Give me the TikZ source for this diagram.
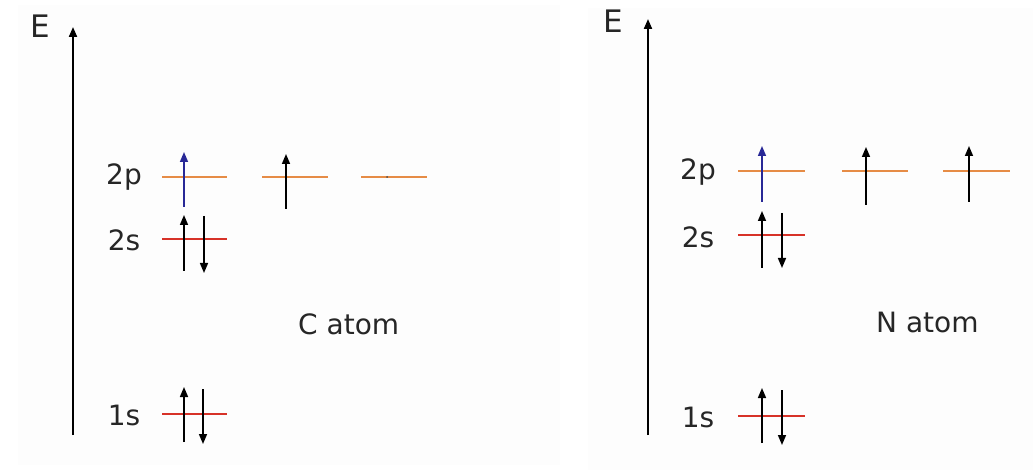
\documentclass[tikz,border=0pt]{standalone}
\usepackage{fontspec}
\setmainfont{DejaVu Sans}
\usetikzlibrary{arrows.meta}
\definecolor{porange}{RGB}{230,140,70}
\definecolor{sred}{RGB}{215,50,40}
\definecolor{eblue}{RGB}{40,40,150}
\definecolor{panelbg}{RGB}{253,253,253}
\begin{document}
\begin{tikzpicture}[x=1pt,y=-1pt,
  lbl/.style={font=\fontsize{28}{32}\selectfont, text=black!85, inner sep=0pt},
  elbl/.style={font=\fontsize{31}{35}\selectfont, text=black!85, inner sep=0pt},
  axis/.style={line width=2pt, -{Triangle[length=10pt,width=8pt]}},
  plevel/.style={draw=porange, line width=2pt},
  slevel/.style={draw=sred, line width=2pt},
  spin/.style={line width=1.6pt, -{Triangle[length=10pt,width=8pt]}},
  bspin/.style={spin, draw=eblue, fill=eblue}]
\useasboundingbox (0,0) rectangle (1033,470);
\fill[white] (0,0) rectangle (1033,470);
\fill[panelbg] (18,5) rectangle (560,465);
\fill[panelbg] (588,8) rectangle (1033,470);

% ---------- C atom ----------
\coordinate (cax0) at (73,435);
\coordinate (cax1) at (73,27);
\draw[axis] (cax0) -- (cax1);
\node[elbl] (cE) at (40,26) {E};

\node[lbl] (c2pl) at (124,177) {2p};
\node[lbl] (c2sl) at (124,240) {2s};
\node[lbl] (c1sl) at (124,415) {1s};

\coordinate (c2pa0) at (162,177); \coordinate (c2pa1) at (227,177);
\coordinate (c2pb0) at (262,177); \coordinate (c2pb1) at (328,177);
\coordinate (c2pc0) at (361,177); \coordinate (c2pc1) at (427,177);
\draw[plevel] (c2pa0) -- (c2pa1);
\draw[plevel] (c2pb0) -- (c2pb1);
\draw[plevel] (c2pc0) -- (c2pc1);
\fill[black!70] (387,177) circle (1pt);
\coordinate (c2s0) at (162,239); \coordinate (c2s1) at (227,239);
\draw[slevel] (c2s0) -- (c2s1);
\coordinate (c1s0) at (162,414); \coordinate (c1s1) at (227,414);
\draw[slevel] (c1s0) -- (c1s1);

\coordinate (cb0) at (184,207); \coordinate (cb1) at (184,152);
\draw[bspin] (cb0) -- (cb1);
\coordinate (cp20) at (286,209); \coordinate (cp21) at (286,154);
\draw[spin] (cp20) -- (cp21);
\coordinate (c2su0) at (184,271); \coordinate (c2su1) at (184,215);
\draw[spin] (c2su0) -- (c2su1);
\coordinate (c2sd0) at (204,216); \coordinate (c2sd1) at (204,273);
\draw[spin] (c2sd0) -- (c2sd1);
\coordinate (c1su0) at (184,442); \coordinate (c1su1) at (184,387);
\draw[spin] (c1su0) -- (c1su1);
\coordinate (c1sd0) at (203,389); \coordinate (c1sd1) at (203,444);
\draw[spin] (c1sd0) -- (c1sd1);

\node[lbl, anchor=west] (catom) at (298,324) {C atom};

% ---------- N atom ----------
\coordinate (nax0) at (648,435);
\coordinate (nax1) at (648,19);
\draw[axis] (nax0) -- (nax1);
\node[elbl] (nE) at (613,21) {E};

\node[lbl] (n2pl) at (698,172) {2p};
\node[lbl] (n2sl) at (698,237) {2s};
\node[lbl] (n1sl) at (698,417) {1s};

\coordinate (n2pa0) at (738,171); \coordinate (n2pa1) at (805,171);
\coordinate (n2pb0) at (842,171); \coordinate (n2pb1) at (908,171);
\coordinate (n2pc0) at (943,171); \coordinate (n2pc1) at (1010,171);
\draw[plevel] (n2pa0) -- (n2pa1);
\draw[plevel] (n2pb0) -- (n2pb1);
\draw[plevel] (n2pc0) -- (n2pc1);
\coordinate (n2s0) at (738,235); \coordinate (n2s1) at (805,235);
\draw[slevel] (n2s0) -- (n2s1);
\coordinate (n1s0) at (738,416); \coordinate (n1s1) at (805,416);
\draw[slevel] (n1s0) -- (n1s1);

\coordinate (nb0) at (762,202); \coordinate (nb1) at (762,146);
\draw[bspin] (nb0) -- (nb1);
\coordinate (np20) at (866,205); \coordinate (np21) at (866,147);
\draw[spin] (np20) -- (np21);
\coordinate (np30) at (969,202); \coordinate (np31) at (969,146);
\draw[spin] (np30) -- (np31);
\coordinate (n2su0) at (762,268); \coordinate (n2su1) at (762,211);
\draw[spin] (n2su0) -- (n2su1);
\coordinate (n2sd0) at (782,213); \coordinate (n2sd1) at (782,268);
\draw[spin] (n2sd0) -- (n2sd1);
\coordinate (n1su0) at (762,443); \coordinate (n1su1) at (762,388);
\draw[spin] (n1su0) -- (n1su1);
\coordinate (n1sd0) at (782,390); \coordinate (n1sd1) at (782,445);
\draw[spin] (n1sd0) -- (n1sd1);

\node[lbl, anchor=west] (natom) at (876,322) {N atom};
\end{tikzpicture}
\end{document}
